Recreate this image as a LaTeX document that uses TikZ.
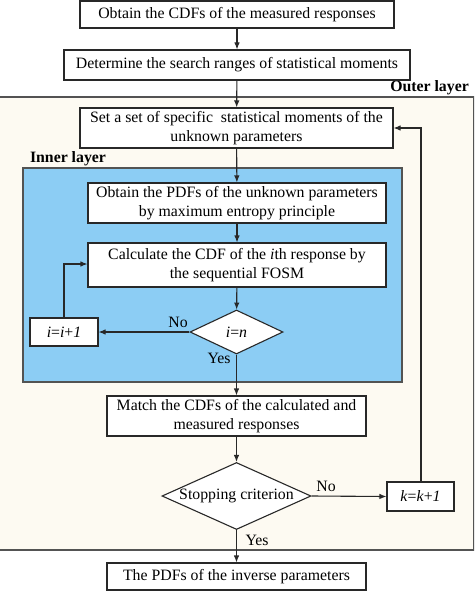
\documentclass[tikz,border=0pt]{standalone}
\usepackage{fontspec}
\setmainfont{Liberation Serif}
\usetikzlibrary{shapes.geometric,arrows.meta,positioning}
\definecolor{cream}{RGB}{253,250,242}
\definecolor{innerblue}{RGB}{140,205,244}
\definecolor{lineclr}{RGB}{40,40,40}
\tikzset{
  stepbox/.style={draw=lineclr, line width=1.1pt, fill=white, align=center, inner sep=0pt,
    font=\fontsize{15.8}{18.7}\selectfont},
  decision/.style={draw=lineclr, line width=1.1pt, fill=white, diamond, inner sep=0pt,
    font=\fontsize{15.8}{18.7}\selectfont},
  flow/.style={draw=lineclr, line width=1.1pt, -{Latex[length=7pt,width=5.5pt]}},
  lbl/.style={font=\fontsize{15.8}{18}\selectfont, inner sep=0pt},
  layerlbl/.style={font=\fontsize{15.8}{18}\selectfont\bfseries, inner sep=0pt},
}
\begin{document}
\begin{tikzpicture}[x=1pt,y=-1pt]
\useasboundingbox (0,0) rectangle (474,591);
\clip (0,0) rectangle (474,591);
% layers
\node[draw=lineclr!80, line width=1.1pt, fill=cream, minimum width=475pt, minimum height=453pt, inner sep=0pt] (outer) at (236.5,323.5) {};
\node[layerlbl, anchor=east] (outerlbl) at (469,88) {Outer layer};
\node[draw=lineclr!80, line width=1.1pt, fill=innerblue, minimum width=379pt, minimum height=214pt, inner sep=0pt] (inner) at (212.5,275) {};
\node[layerlbl] (innerlbl) at (68,159) {Inner layer};
% boxes
\node[stepbox, minimum width=314pt, minimum height=27pt] (b1) at (237,14.5) {Obtain the CDFs of the measured responses};
\node[stepbox, minimum width=346pt, minimum height=30pt] (b2) at (237,65) {Determine the search ranges of statistical moments};
\node[stepbox, minimum width=313pt, minimum height=40pt] (b3) at (236.5,128) {Set a set of specific\ \ statistical moments of the\\unknown parameters};
\node[stepbox, minimum width=298pt, minimum height=40pt] (b4) at (237,203) {Obtain the PDFs of the unknown parameters\\by maximum entropy principle};
\node[stepbox, minimum width=298pt, minimum height=44pt] (b5) at (237,265) {Calculate the CDF of the \textit{i}th response by\\the sequential FOSM};
\node[decision, minimum width=93pt, minimum height=44pt, aspect=2.1] (d1) at (236.5,332) {\textit{i}=\textit{n}};
\node[stepbox, minimum width=68pt, minimum height=28pt] (bi) at (64,332) {\textit{i}=\textit{i}+\textit{1}};
\node[stepbox, minimum width=259pt, minimum height=40pt] (b6) at (236.5,416) {Match the CDFs of the calculated and\\measured responses};
\node[decision, minimum width=149pt, minimum height=67pt, aspect=2.3] (d2) at (236.5,496) {Stopping criterion};
\node[stepbox, minimum width=67pt, minimum height=29pt] (bk) at (420.5,496.5) {\textit{k}=\textit{k}+\textit{1}};
\node[stepbox, minimum width=259pt, minimum height=27pt] (b7) at (236.5,576.5) {The PDFs of the inverse parameters};
\coordinate (loopi) at (64,264);
\coordinate (loopk) at (421,128);
% connectors
\draw[flow] (b1) -- (b2);
\draw[flow] (b2) -- (b3);
\draw[flow] (b3) -- (b4);
\draw[flow] (b4) -- (b5);
\draw[flow] (b5) -- (d1);
\draw[flow] (d1.west) -- (bi.east);
\node[lbl] (no1) at (178,322) {No};
\draw[flow] (bi.north) -- (loopi) -- (loopi -| b5.west);
\draw[flow] (d1.south) -- (b6.north);
\node[lbl] (yes1) at (219,358) {Yes};
\draw[flow] (b6) -- (d2);
\draw[flow] (d2.east) -- (bk.west);
\node[lbl] (no2) at (326,486) {No};
\draw[flow] (bk.north -| loopk) -- (loopk) -- (b3.east);
\draw[flow] (d2.south) -- (b7.north);
\node[lbl] (yes2) at (257,540) {Yes};
\end{tikzpicture}
\end{document}
